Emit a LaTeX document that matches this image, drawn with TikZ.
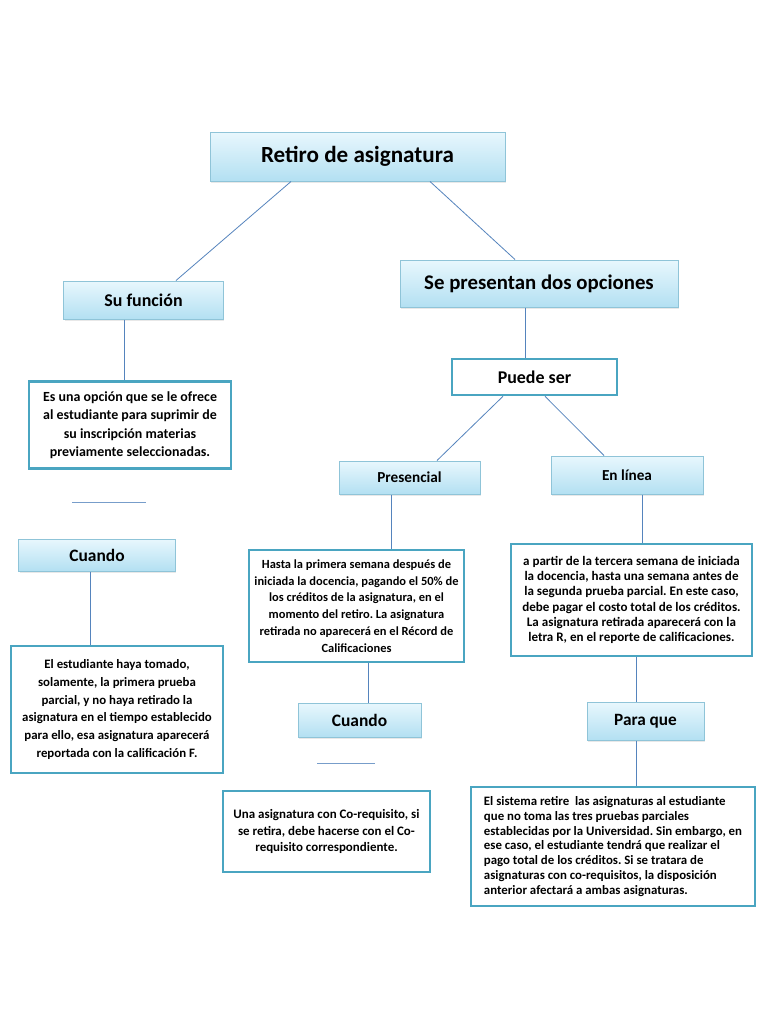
\documentclass[tikz,border=0pt]{standalone}
\usepackage{fontspec}
\setmainfont{Carlito}
\frenchspacing
\usetikzlibrary{shadows}
\definecolor{celesteA}{HTML}{E8F7FD}
\definecolor{celesteB}{HTML}{B3E0F2}
\definecolor{bordeceleste}{HTML}{8FC4D8}
\definecolor{bordeteal}{HTML}{4AA5C1}
\definecolor{linea}{HTML}{5584BD}
\begin{document}
\begin{tikzpicture}[x=1bp,y=-1bp,
  cajaazul/.style={draw=bordeceleste,line width=1bp,top color=celesteA,bottom color=celesteB,
    inner sep=0pt,font=\bfseries,drop shadow={opacity=0.18,shadow xshift=1bp,shadow yshift=-1.5bp}},
  cajablanca/.style={draw=bordeteal,line width=2.6bp,fill=white,inner sep=0pt,align=center},
  enlace/.style={draw=linea,line width=0.8bp}]
\useasboundingbox (0,0) rectangle (768,1024);
\fill[white] (0,0) rectangle (768,1024);
% encabezado
\node[cajaazul,minimum width=295bp,minimum height=49bp,font=\bfseries\fontsize{23.2}{27}\selectfont] (titulo) at (357.5,156.5) {Retiro de asignatura};
\node[cajaazul,minimum width=159bp,minimum height=38bp,font=\bfseries\fontsize{18}{21}\selectfont] (sufuncion) at (143.5,300) {Su función};
\node[cajaazul,minimum width=278bp,minimum height=47bp,font=\bfseries\fontsize{20.9}{25}\selectfont] (opciones) at (539,283.5) {Se presentan dos opciones};
\node[cajablanca,minimum width=165bp,minimum height=36bp,font=\bfseries\fontsize{18}{21}\selectfont] (puede) at (534.5,377) {Puede ser};
\node[cajaazul,minimum width=141bp,minimum height=33bp,font=\bfseries\fontsize{15.3}{18}\selectfont] (presencial) at (409.5,477.5) {Presencial};
\node[cajaazul,minimum width=152bp,minimum height=38bp,font=\bfseries\fontsize{15.3}{18}\selectfont] (enlinea) at (627,475) {En línea};
% rama izquierda
\node[cajablanca,minimum width=202bp,minimum height=87bp,font=\bfseries\fontsize{14}{18.5}\selectfont] (opcion) at (130,425)
  {Es una opción que se le ofrece\\al estudiante para suprimir de\\su inscripción materias\\previamente seleccionadas.};
\node[cajaazul,minimum width=156bp,minimum height=32bp,font=\bfseries\fontsize{17.5}{21}\selectfont] (cuandoizq) at (97,555) {Cuando};
\node[cajablanca,minimum width=212bp,minimum height=127bp,font=\bfseries\fontsize{12.9}{17.8}\selectfont] (estudiante) at (117,709.5)
  {El estudiante haya tomado,\\solamente, la primera prueba\\parcial, y no haya retirado la\\asignatura en el tiempo establecido\\para ello, esa asignatura aparecerá\\reportada con la calificación F.};
% rama presencial
\node[cajablanca,minimum width=215bp,minimum height=112bp,font=\bfseries\fontsize{12.5}{16.8}\selectfont] (hasta) at (356.5,606)
  {Hasta la primera semana después de\\iniciada la docencia, pagando el 50\% de\\los créditos de la asignatura, en el\\momento del retiro. La asignatura\\retirada no aparecerá en el Récord de\\Calificaciones};
\node[cajaazul,minimum width=123bp,minimum height=34bp,font=\bfseries\fontsize{17.5}{21}\selectfont] (cuandomed) at (359.5,720) {Cuando};
\node[cajablanca,minimum width=207bp,minimum height=81bp,font=\bfseries\fontsize{13}{17}\selectfont] (coreq) at (326.5,831.5)
  {Una asignatura con Co-requisito, si\\se retira, debe hacerse con el Co-\\requisito correspondiente.};
% rama en linea
\node[cajablanca,minimum width=241bp,minimum height=112bp,font=\bfseries\fontsize{13.1}{15.2}\selectfont] (apartir) at (631.5,600)
  {a partir de la tercera semana de iniciada\\la docencia, hasta una semana antes de\\la segunda prueba parcial. En este caso,\\debe pagar el costo total de los créditos.\\La asignatura retirada aparecerá con la\\letra R, en el reporte de calificaciones.};
\node[cajaazul,minimum width=117bp,minimum height=38bp,font=\bfseries\fontsize{17.3}{21}\selectfont] (paraque) at (645.5,721) {Para que};
\node[cajablanca,minimum width=284bp,minimum height=119bp,align=left,font=\bfseries\fontsize{12.9}{14.8}\selectfont] (sistema) at (613,846.5)
  {El sistema retire\ \ las asignaturas al estudiante\\que no toma las tres pruebas parciales\\establecidas por la Universidad. Sin embargo, en\\ese caso, el estudiante tendrá que realizar el\\pago total de los créditos. Si se tratara de\\asignaturas con co-requisitos, la disposición\\anterior afectará a ambas asignaturas.};
% conectores
\draw[enlace] (titulo.south -| 291,0) -- (sufuncion.north -| 176,0);
\draw[enlace] (titulo.south -| 430,0) -- (opciones.north -| 515,0);
\draw[enlace] (sufuncion.south -| 124,0) -- (opcion.north -| 124,0);
\draw[enlace] (opciones.south -| 525,0) -- (puede.north -| 525,0);
\draw[enlace] (puede.south -| 503,0) -- (presencial.north -| 437,0);
\draw[enlace] (puede.south -| 545,0) -- (enlinea.north -| 604,0);
\draw[enlace] (presencial.south -| 391,0) -- (hasta.north -| 391,0);
\draw[enlace] (enlinea.south -| 642,0) -- (apartir.north -| 642,0);
\draw[enlace] (cuandoizq.south -| 90,0) -- (estudiante.north -| 90,0);
\draw[enlace] (hasta.south -| 368,0) -- (cuandomed.north -| 368,0);
\draw[enlace] (apartir.south -| 636,0) -- (paraque.north -| 636,0);
\draw[enlace] (paraque.south -| 636,0) -- (sistema.north -| 636,0);
% trazos sueltos
\draw[enlace,draw=linea!80] (72,502) -- (146,502);
\draw[enlace,draw=linea!80] (317,763) -- (375,763);
\end{tikzpicture}
\end{document}
